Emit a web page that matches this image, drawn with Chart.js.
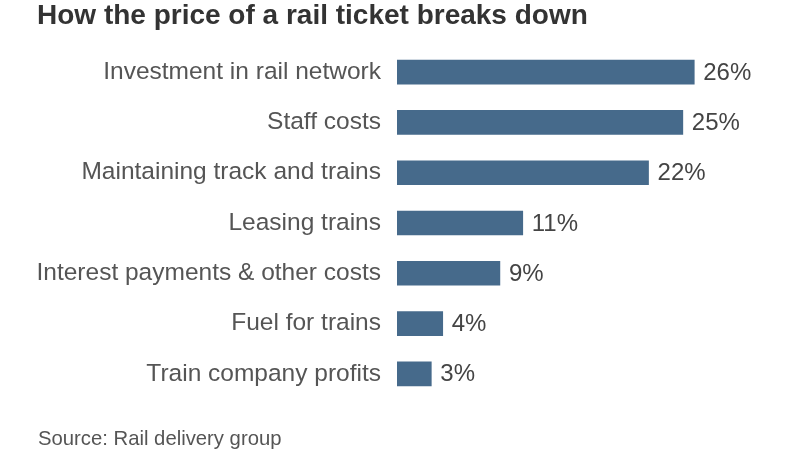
<!DOCTYPE html>
<html lang="en">
<head>
  <meta charset="UTF-8">
  <title>Rail ticket price breakdown</title>
  <script src="https://cdn.jsdelivr.net/npm/chart.js"></script>
  <style>
    html, body { margin: 0; padding: 0; background: #fff; }
    #wrap { width: 800px; height: 450px; position: relative; }
  </style>
</head>
<body>
<div id="wrap"><canvas id="railChart"></canvas></div>

<script>
const categories = [
  "Investment in rail network",
  "Staff costs",
  "Maintaining track and trains",
  "Leasing trains",
  "Interest payments & other costs",
  "Fuel for trains",
  "Train company profits"
];
const shares = [26, 25, 22, 11, 9, 4, 3];

const titleText = "How the price of a rail ticket breaks down";
const sourceText = "Source: Rail delivery group";
const FONT = "'Liberation Sans', Arial, sans-serif";

// title, source line and the % labels at bar ends
const textPlugin = {
  id: "textPlugin",
  afterDraw(chart) {
    const ctx = chart.ctx;
    ctx.save();
    ctx.textAlign = "left";

    ctx.textBaseline = "alphabetic";
    ctx.fillStyle = "#333";
    ctx.font = "bold 28px " + FONT;
    ctx.fillText(titleText, 37, 24);

    ctx.fillStyle = "#555";
    ctx.font = "20.3px " + FONT;
    ctx.fillText(sourceText, 38, 445);

    ctx.textBaseline = "middle";
    ctx.fillStyle = "#444";
    ctx.font = "24px " + FONT;
    const meta = chart.getDatasetMeta(0);
    meta.data.forEach((bar, i) => {
      ctx.fillText(shares[i] + "%", bar.x + 9, bar.y + 1);
    });
    ctx.restore();
  }
};

new Chart(document.getElementById("railChart"), {
  type: "bar",
  data: {
    labels: categories,
    datasets: [{
      data: shares,
      backgroundColor: "#466a8b",
      barThickness: 24
    }]
  },
  options: {
    indexAxis: "y",
    responsive: true,
    maintainAspectRatio: false,
    animation: false,
    layout: { padding: { top: 47, bottom: 51, left: 0, right: 60 } },
    plugins: {
      legend: { display: false },
      tooltip: { enabled: false }
    },
    scales: {
      x: {
        min: 0,
        max: 30,
        display: false
      },
      y: {
        afterFit(scale) { scale.width = 397; },
        grid: { display: false, drawTicks: false },
        border: { display: false },
        ticks: {
          padding: 16,
          color: "#555",
          font: { family: FONT, size: 24.5 }
        }
      }
    }
  },
  plugins: [textPlugin]
});
</script>
</body>
</html>
